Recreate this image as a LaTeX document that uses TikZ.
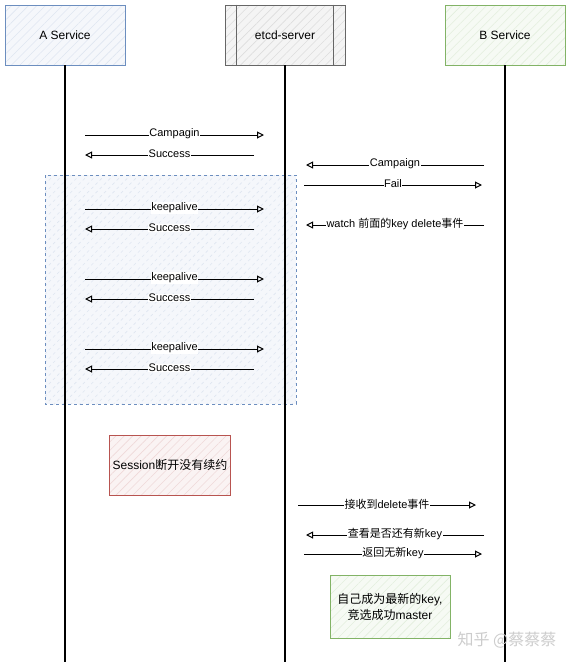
\documentclass[tikz,border=0pt]{standalone}
\usepackage{fontspec}
\setmainfont{Liberation Sans}
\newfontfamily\cjk{Noto Sans CJK SC}
\usepackage{xcolor}
\usetikzlibrary{positioning,calc,patterns.meta,arrows.meta}

\definecolor{aline}{HTML}{6C8EBF}
\definecolor{bline}{HTML}{82B366}
\definecolor{rline}{HTML}{B85450}
\definecolor{eline}{HTML}{666666}

\tikzset{
  hatch/.style={preaction={fill=#1!7}, pattern={Lines[angle=45,distance=6pt,line width=0.6pt]}, pattern color=#1!22},
  actor/.style={draw, line width=0.9pt, minimum width=120pt, minimum height=60pt, font=\fontsize{12}{16}\selectfont},
  msg/.style={line width=1pt, -{Triangle[open,length=7pt,width=7pt]}},
  lbl/.style={fill=white, inner sep=0.5pt, yshift=1pt, font=\fontsize{11}{12}\selectfont},
  life/.style={line width=1.4pt}
}

\begin{document}
\begin{tikzpicture}[x=1pt,y=-1pt]
    \useasboundingbox (0,0) rectangle (571,662);
    \coordinate (bottom) at (0,662);

    % keepalive group
    \draw[aline, dashed, line width=0.8pt, hatch=aline] (45,175) rectangle (296,404);

    % Participants
    \node[actor, draw=aline, hatch=aline] (A) at (65,35) {A Service};
    \node[actor, draw=eline, hatch=eline] (E) at (285,35) {etcd-server};
    \draw[eline, line width=0.9pt] ([xshift=12pt]E.north west) -- ([xshift=12pt]E.south west);
    \draw[eline, line width=0.9pt] ([xshift=-12pt]E.north east) -- ([xshift=-12pt]E.south east);
    \node[actor, draw=bline, hatch=bline] (B) at (505,35) {B Service};

    % Lifelines
    \draw[life] (A.south) -- (A.south |- bottom);
    \draw[life] (E.south) -- (E.south |- bottom);
    \draw[life] (B.south) -- (B.south |- bottom);

    % A campaigns
    \draw[msg] ($(A.south |- 0,135)+(20,0)$) -- node[lbl]{Campagin} ($(E.south |- 0,135)+(-21,0)$);
    \draw[msg] ($(E.south |- 0,155)+(-31,0)$) -- node[lbl]{Success} ($(A.south |- 0,155)+(20,0)$);

    % keepalive
    \foreach \y in {209,279,349} {
        \draw[msg] ($(A.south |- 0,\y)+(20,0)$) -- node[lbl]{keepalive} ($(E.south |- 0,\y)+(-21,0)$);
        \draw[msg] ($(E.south |- 0,\y+20)+(-31,0)$) -- node[lbl]{Success} ($(A.south |- 0,\y+20)+(20,0)$);
    }

    % B campaigns
    \draw[msg] ($(B.south |- 0,165)+(-21,0)$) -- node[lbl]{Campaign} ($(E.south |- 0,165)+(21,0)$);
    \draw[msg] ($(E.south |- 0,185)+(19,0)$) -- node[lbl]{Fail} ($(B.south |- 0,185)+(-23,0)$);
    \draw[msg] ($(B.south |- 0,225)+(-21,0)$) -- node[lbl]{watch {\cjk 前面的}key delete{\cjk 事件}} ($(E.south |- 0,225)+(21,0)$);

    % Session lost
    \node[actor, draw=rline, hatch=rline] (S) at (170,465) {Session{\cjk 断开没有续约}};

    % B takes over
    \draw[msg] ($(E.south |- 0,505)+(13,0)$) -- node[lbl]{{\cjk 接收到}delete{\cjk 事件}} ($(B.south |- 0,505)+(-29,0)$);
    \draw[msg] ($(B.south |- 0,535)+(-21,0)$) -- node[lbl]{{\cjk 查看是否还有新}key} ($(E.south |- 0,535)+(21,0)$);
    \draw[msg] ($(E.south |- 0,554)+(19,0)$) -- node[lbl]{{\cjk 返回无新}key} ($(B.south |- 0,554)+(-23,0)$);

    \node[actor, draw=bline, hatch=bline, minimum height=63pt, align=center] (M) at (390,607) {{\cjk 自己成为最新的}key,\\{\cjk 竞选成功}master};

    % watermark
    \node[text=gray!40, font=\cjk\fontsize{16}{18}\selectfont] (wm) at (507,640) {知乎 @蔡蔡蔡};
\end{tikzpicture}
\end{document}
